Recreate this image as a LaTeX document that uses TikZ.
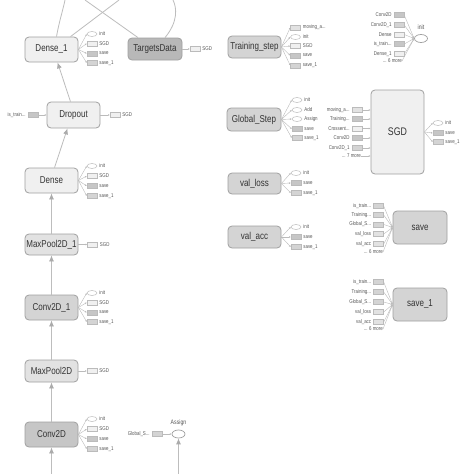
\documentclass[tikz,border=0pt]{standalone}
\usepackage{fontspec}
\usetikzlibrary{shapes.geometric,arrows.meta}
\newfontfamily\tbfont[FakeStretch=0.8]{Liberation Sans}
\definecolor{bordc}{HTML}{A0A0A0}
\definecolor{edgec}{HTML}{BDBDBD}
\definecolor{tipc}{HTML}{ABABAB}
\definecolor{txt}{HTML}{333333}
\definecolor{labc}{HTML}{555555}
\definecolor{anb}{HTML}{BBBBBB}
\definecolor{fA}{HTML}{F0F0F0}
\definecolor{fB}{HTML}{E2E2E2}
\definecolor{fC}{HTML}{D4D4D4}
\definecolor{fD}{HTML}{C6C6C6}
\definecolor{fE}{HTML}{B8B8B8}
\tikzset{
  op/.style={draw=bordc, line width=0.8pt, rounded corners=4pt, minimum width=53pt, minimum height=#1, inner sep=0pt, font=\tbfont\fontsize{10}{10}\selectfont, text=txt},
  op/.default=25pt,
  annrect/.style={draw=anb, line width=0.4pt, fill=#1, minimum width=10pt, minimum height=5pt, inner sep=0pt},
  annell/.style={draw=anb, line width=0.5pt, fill=white, ellipse, minimum width=10pt, minimum height=5pt, inner sep=0pt},
  annlab/.style={font=\tbfont\fontsize{5.5}{5.5}\selectfont, text=labc, inner sep=0pt},
  bigell/.style={draw=bordc, line width=0.7pt, fill=white, ellipse, minimum width=13pt, minimum height=8pt, inner sep=0pt},
  ellab/.style={font=\tbfont\fontsize{6.5}{6.5}\selectfont, text=labc, inner sep=0pt},
  annline/.style={draw=anb, line width=0.4pt, -{Latex[length=1.8pt,width=1.8pt]}},
  edge/.style={draw=edgec, line width=0.8pt},
  arr/.style={edge, -{Latex[length=6pt,width=5pt,color=tipc]}}
}
\newcommand\annR[6]{%
  \node[#6] (#2) at (#4,#5) {};
  \node[annlab, anchor=west] (#2l) at ([xshift=2pt]#2.east) {#3};
  \draw[annline] (#1) -- (#2.west);}
\newcommand\annL[6]{%
  \node[#6] (#2) at (#4,#5) {};
  \node[annlab, anchor=east] (#2l) at ([xshift=-2pt]#2.west) {#3};
  \draw[annline] (#2.east) -- (#1);}
\newcommand\annH[6]{%
  \node[#6] (#2) at (#4,#5) {};
  \node[annlab, anchor=east] (#2l) at ([xshift=-2pt]#2.west) {#3};
  \draw[annline] (#2.east) -- (#2.east -| #1);}
\newcommand\moreL[5]{%
  \node[annlab, anchor=east] (#2) at (#4,#5) {#3};
  \draw[annline] (#2.east) -- (#1);}
\begin{document}
\begin{tikzpicture}[x=1pt,y=-1pt]
\useasboundingbox (0,0) rectangle (474,474);
\fill[white] (0,0) rectangle (474,474);
\begin{scope}
\clip (0,0) rectangle (474,474);
% main nodes, left column
\node[op, fill=fA] (dense1) at (51.5,49.5) {Dense\_1};
\node[op=22pt, minimum width=54pt, fill=fE] (targets) at (155,49) {TargetsData};
\node[op=26pt, fill=fA] (dropout) at (73.5,115) {Dropout};
\node[op, fill=fA] (dense) at (51.5,180.5) {Dense};
\node[op=21pt, fill=fB] (maxpool1) at (51.5,244.5) {MaxPool2D\_1};
\node[op, fill=fC] (conv1) at (51.5,307.5) {Conv2D\_1};
\node[op=22pt, fill=fB] (maxpool) at (51.5,371) {MaxPool2D};
\node[op, fill=fD] (conv) at (51.5,434.5) {Conv2D};
% middle column
\node[op=22pt, fill=fC] (train) at (254.5,47) {Training\_step};
\node[op=23pt, minimum width=54pt, fill=fC] (gstep) at (254,119.5) {Global\_Step};
\node[op=21pt, fill=fC] (vloss) at (254.5,183.5) {val\_loss};
\node[op=22pt, fill=fC] (vacc) at (254.5,237) {val\_acc};
% right column
\node[op=84pt, fill=fA, font=\tbfont\fontsize{11}{11}\selectfont] (sgd) at (397.5,132) {SGD};
\node[op=33pt, minimum width=54pt, fill=fC] (save) at (420,227.5) {save};
\node[op=33pt, minimum width=54pt, fill=fC] (save1) at (420,304.5) {save\_1};
\node[bigell] (init) at (421,38.5) {};
\node[ellab, anchor=south] (initl) at ([yshift=4pt]init.north) {init};
\node[bigell] (assign) at (178.5,434) {};
\node[ellab, anchor=south] (assignl) at ([yshift=4pt]assign.north) {Assign};
% free ends
\coordinate (t1) at (65,0);
\coordinate (t2) at (119,0);
\coordinate (t3) at (85,0);
\coordinate (t4) at (173,0);
\coordinate (b1) at (51.5,474);
\coordinate (b2) at (178.5,474);
% main edges
\draw[edge] ([xshift=5pt]dense1.north) .. controls (59,22) and (63,10) .. (t1);
\draw[edge] ([xshift=19pt]dense1.north) -- (t2);
\draw[edge] ([xshift=-17pt]targets.north) -- (t3);
\draw[edge] ([xshift=10pt]targets.north) .. controls (178,22) and (177,8) .. (t4);
\draw[arr] ([xshift=-3pt]dropout.north) -- ([xshift=6pt]dense1.south);
\draw[arr] ([xshift=3pt]dense.north) -- ([xshift=-6pt]dropout.south);
\draw[arr] (maxpool1) -- (dense);
\draw[arr] (conv1) -- (maxpool1);
\draw[arr] (maxpool) -- (conv1);
\draw[arr] (conv) -- (maxpool);
\draw[arr] (b1) -- (conv.south);
\draw[arr] (b2) -- (assign.south);
% annotations left column
\annR{dense1.east}{d1a}{init}{92}{34}{annell}
\annR{dense1.east}{d1b}{SGD}{92}{43.5}{annrect=fA}
\annR{dense1.east}{d1c}{save}{92}{53.5}{annrect=fD}
\annR{dense1.east}{d1d}{save\_1}{92}{63}{annrect=fC}
\annR{targets.east}{tga}{SGD}{195}{49}{annrect=fA}
\annR{dropout.east}{dra}{SGD}{115}{115}{annrect=fA}
\annL{dropout.west}{drb}{is\_train...}{33}{115}{annrect=fD}
\annR{dense.east}{dea}{init}{92}{166}{annell}
\annR{dense.east}{deb}{SGD}{92}{176}{annrect=fA}
\annR{dense.east}{dec}{save}{92}{186}{annrect=fD}
\annR{dense.east}{ded}{save\_1}{92}{196}{annrect=fC}
\annR{maxpool1.east}{m1a}{SGD}{92.5}{244.5}{annrect=fA}
\annR{conv1.east}{c1a}{init}{92}{293}{annell}
\annR{conv1.east}{c1b}{SGD}{92}{302.5}{annrect=fA}
\annR{conv1.east}{c1c}{save}{92}{312.5}{annrect=fD}
\annR{conv1.east}{c1d}{save\_1}{92}{322}{annrect=fC}
\annR{maxpool.east}{mpa}{SGD}{92}{371}{annrect=fA}
\annR{conv.east}{cva}{init}{92}{419}{annell}
\annR{conv.east}{cvb}{SGD}{92}{429}{annrect=fA}
\annR{conv.east}{cvc}{save}{92}{439}{annrect=fD}
\annR{conv.east}{cvd}{save\_1}{92}{449}{annrect=fC}
\annL{assign.west}{asa}{Global\_S...}{157}{434}{annrect=fC}
% middle column annotations
\annR{train.east}{tra}{moving\_a...}{295.5}{27.5}{annrect=fB}
\annR{train.east}{trb}{init}{295.5}{37}{annell}
\annR{train.east}{trc}{SGD}{295.5}{46}{annrect=fA}
\annR{train.east}{trd}{save}{295.5}{55.5}{annrect=fD}
\annR{train.east}{tre}{save\_1}{295.5}{65.5}{annrect=fC}
\annR{gstep.east}{gsa}{init}{297}{100}{annell}
\annR{gstep.east}{gsb}{Add}{297}{110}{annell}
\annR{gstep.east}{gsc}{Assign}{297}{119}{annell}
\annR{gstep.east}{gsd}{save}{297}{129}{annrect=fD}
\annR{gstep.east}{gse}{save\_1}{297}{138}{annrect=fC}
\annR{vloss.east}{vla}{init}{296}{173}{annell}
\annR{vloss.east}{vlb}{save}{296}{183}{annrect=fD}
\annR{vloss.east}{vlc}{save\_1}{296}{193}{annrect=fC}
\annR{vacc.east}{vaa}{init}{296}{227}{annell}
\annR{vacc.east}{vab}{save}{296}{237}{annrect=fD}
\annR{vacc.east}{vac}{save\_1}{296}{247}{annrect=fC}
% SGD
\annH{sgd.west}{sga}{moving\_a...}{357}{110}{annrect=fB}
\annH{sgd.west}{sgb}{Training...}{357}{119}{annrect=fD}
\annH{sgd.west}{sgc}{Crossent...}{357}{128.5}{annrect=fA}
\annH{sgd.west}{sgd2}{Conv2D}{357}{138}{annrect=fD}
\annH{sgd.west}{sge}{Conv2D\_1}{357}{148}{annrect=fC}
\node[annlab, anchor=east] (sgf) at (361,156) {... 7 more};
\draw[annline] (sgf.east) -- (sgf.east -| sgd.west);
\annR{sgd.east}{sgr1}{init}{438}{123}{annell}
\annR{sgd.east}{sgr2}{save}{438}{133}{annrect=fD}
\annR{sgd.east}{sgr3}{save\_1}{438}{142}{annrect=fC}
% init inputs
\annL{init.west}{ina}{Conv2D}{399}{15}{annrect=fD}
\annL{init.west}{inb}{Conv2D\_1}{399}{25}{annrect=fC}
\annL{init.west}{inc}{Dense}{399}{34.5}{annrect=fA}
\annL{init.west}{ind}{is\_train...}{399}{44}{annrect=fD}
\annL{init.west}{ine}{Dense\_1}{399}{54}{annrect=fA}
\moreL{init.west}{inf}{... 6 more}{402}{61}
% save inputs
\annL{save.west}{sva}{is\_train...}{378.5}{206}{annrect=fC}
\annL{save.west}{svb}{Training...}{378.5}{215}{annrect=fC}
\annL{save.west}{svc}{Global\_S...}{378.5}{224.5}{annrect=fC}
\annL{save.west}{svd}{val\_loss}{378.5}{234}{annrect=fB}
\annL{save.west}{sve}{val\_acc}{378.5}{244}{annrect=fB}
\moreL{save.west}{svf}{... 6 more}{383}{252}
% save_1 inputs
\annL{save1.west}{s1a}{is\_train...}{378.5}{282}{annrect=fC}
\annL{save1.west}{s1b}{Training...}{378.5}{292}{annrect=fC}
\annL{save1.west}{s1c}{Global\_S...}{378.5}{302}{annrect=fC}
\annL{save1.west}{s1d}{val\_loss}{378.5}{312}{annrect=fB}
\annL{save1.west}{s1e}{val\_acc}{378.5}{322}{annrect=fB}
\moreL{save1.west}{s1f}{... 6 more}{383}{329}
\end{scope}
\end{tikzpicture}
\end{document}
